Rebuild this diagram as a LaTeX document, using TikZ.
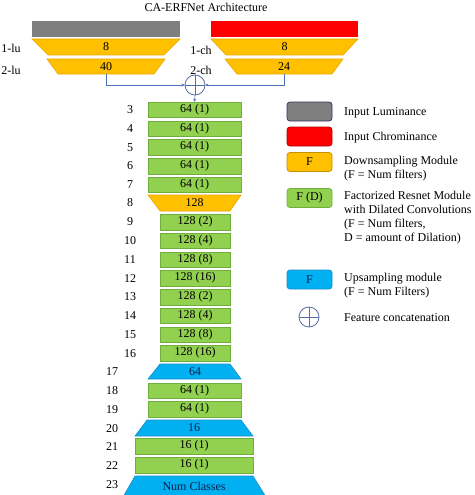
\documentclass[tikz,border=0pt]{standalone}
\usepackage{fontspec}
\usetikzlibrary{arrows.meta}
\setmainfont{Liberation Serif}
\definecolor{cgray}{HTML}{7F7F7F}
\definecolor{cred}{HTML}{FF0000}
\definecolor{corange}{HTML}{FFC000}
\definecolor{corangeD}{HTML}{E8A800}
\definecolor{cgreen}{HTML}{92D050}
\definecolor{cgreenD}{HTML}{6FAE3C}
\definecolor{cblue}{HTML}{00B0F0}
\definecolor{cblueD}{HTML}{1A8FC8}
\definecolor{cnavy}{HTML}{0B1F4F}
\definecolor{cline}{HTML}{4F6FB8}
\definecolor{ccirc}{HTML}{5A6EA6}
\newcommand{\trapblk}[9]{% name, ytop, ybot, xtl, xtr, xbl, xbr, colour style, text
  \path[#8] (#4,#2) -- (#5,#2) -- (#7,#3) -- (#6,#3) -- cycle;
  \node[txt, minimum height={#3-#2}] (#1) at ({(#4+#5)/2},{(#2+#3)/2}) {#9};}
\begin{document}
\begin{tikzpicture}[x=1pt,y=-1pt,
  txt/.style={inner sep=0pt, font=\fontsize{12}{14}\selectfont},
  lab/.style={inner sep=0pt, font=\fontsize{12}{14}\selectfont},
  ds/.style={fill=corange, draw=corangeD, line width=0.6pt},
  gr/.style={fill=cgreen, draw=cgreenD, line width=0.6pt},
  us/.style={fill=cblue, draw=cblueD, line width=0.6pt},
  legbox/.style={rounded corners=3pt, line width=0.8pt, minimum width=45pt, minimum height=19pt, inner sep=0pt, font=\fontsize{12}{14}\selectfont},
  legtxt/.style={inner sep=0pt, anchor=west, align=left, font=\fontsize{12}{14}\selectfont},
  conn/.style={draw=cline, line width=0.6pt, -{Stealth[length=3pt,width=3pt]}},
  oplus/.style={circle, draw=ccirc, line width=0.8pt, minimum size=20pt, inner sep=0pt,
    path picture={\draw[ccirc, line width=0.8pt] (path picture bounding box.north) -- (path picture bounding box.south)
      (path picture bounding box.west) -- (path picture bounding box.east);}}
]
\useasboundingbox (0,0) rectangle (474,495);
\fill[white] (0,0) rectangle (474,495);

\node[txt] (title) at (206,7) {CA-ERFNet Architecture};

% inputs
\fill[cgray] (32,21) rectangle (180,37);
\node[inner sep=0pt, minimum width=148pt, minimum height=16pt] (inlu) at (106,29) {};
\fill[cred] (211,21) rectangle (358,37);
\node[inner sep=0pt, minimum width=147pt, minimum height=16pt] (inch) at (284.5,29) {};

\trapblk{lu1}{39}{55}{32}{180}{48}{164}{ds}{8}
\trapblk{lu2}{59}{74}{47}{165}{58}{154}{ds}{40}
\trapblk{ch1}{39}{55}{211}{358}{226}{343}{ds}{8}
\trapblk{ch2}{59}{74}{225}{343}{237}{332}{ds}{24}
\node[lab] (l1lu) at (11,48) {1-lu};
\node[lab] (l2lu) at (11,70) {2-lu};
\node[lab] (l1ch) at (201,50) {1-ch};
\node[lab] (l2ch) at (201,70) {2-ch};

\node[oplus] (cat) at (195,85) {};

% main column
\trapblk{b3}{102}{117}{148}{241}{148}{241}{gr}{64 (1)}
\trapblk{b4}{121}{136}{148}{241}{148}{241}{gr}{64 (1)}
\trapblk{b5}{139}{155}{148}{241}{148}{241}{gr}{64 (1)}
\trapblk{b6}{158}{174}{148}{241}{148}{241}{gr}{64 (1)}
\trapblk{b7}{177}{192}{148}{241}{148}{241}{gr}{64 (1)}
\trapblk{b8}{195}{211}{148}{241}{160}{230}{ds}{128}
\trapblk{b9}{214}{230}{160}{230}{160}{230}{gr}{128 (2)}
\trapblk{b10}{233}{248}{160}{230}{160}{230}{gr}{128 (4)}
\trapblk{b11}{252}{267}{160}{230}{160}{230}{gr}{128 (8)}
\trapblk{b12}{270}{286}{160}{230}{160}{230}{gr}{128 (16)}
\trapblk{b13}{289}{305}{160}{230}{160}{230}{gr}{128 (2)}
\trapblk{b14}{308}{323}{160}{230}{160}{230}{gr}{128 (4)}
\trapblk{b15}{327}{342}{160}{230}{160}{230}{gr}{128 (8)}
\trapblk{b16}{345}{361}{160}{230}{160}{230}{gr}{128 (16)}
\trapblk{b17}{364}{379}{160}{230}{148}{241}{us}{\color{cnavy}64}
\trapblk{b18}{383}{398}{148}{241}{148}{241}{gr}{64 (1)}
\trapblk{b19}{401}{417}{148}{241}{148}{241}{gr}{64 (1)}
\trapblk{b20}{420}{436}{147}{241}{135}{253}{us}{\color{cnavy}16}
\trapblk{b21}{438}{454}{135}{253}{135}{253}{gr}{16 (1)}
\trapblk{b22}{457}{473}{135}{253}{135}{253}{gr}{16 (1)}
\trapblk{b23}{476}{497}{135}{253}{123}{266}{us}{\color{cnavy}Num Classes}

\foreach \n/\yy in {3/110,4/129,5/148,6/166,7/185,8/203,9/222}
  \node[lab] (n\n) at (130,\yy) {\n};
\foreach \n/\yy in {10/241,11/260,12/279,13/297,14/316,15/335,16/354}
  \node[lab] (n\n) at (130,\yy) {\n};
\foreach \n/\yy in {17/372,18/391,19/410,20/429,21/447,22/466,23/485}
  \node[lab] (n\n) at (112,\yy) {\n};

% connectors
\draw[conn] (lu2.south) |- (cat.west);
\draw[conn] (ch2.south) |- (cat.east);
\draw[conn] (cat.south) -- (b3.north);

% legend
\node[legbox, fill=cgray, draw=cgray!70!blue!60!black] (kg) at (309.5,111.5) {};
\node[legbox, fill=cred, draw=cred!70!black] (kr) at (309.5,136.5) {};
\node[legbox, fill=corange, draw=corangeD!85!black] (ko) at (309.5,162) {F};
\node[legbox, fill=cgreen, draw=cgreenD] (kgr) at (309.5,198) {F (D)};
\node[legbox, fill=cblue, draw=cblueD] (kb) at (309.5,279.5) {\color{cnavy}F};
\node[oplus] (kc) at (309,317) {};

\node[legtxt] (tg) at (344,113) {Input Luminance};
\node[legtxt] (tr) at (344,138) {Input Chrominance};
\node[legtxt, anchor=north west] (to) at (344,156) {Downsampling Module\\(F = Num filters)};
\node[legtxt, anchor=north west] (tgr) at (344,191) {Factorized Resnet Module\\with Dilated Convolutions\\(F = Num filters,\\D = amount of Dilation)};
\node[legtxt, anchor=north west] (tb) at (344,273) {Upsampling module\\(F = Num Filters)};
\node[legtxt] (tc) at (344,318) {Feature concatenation};
\end{tikzpicture}
\end{document}
